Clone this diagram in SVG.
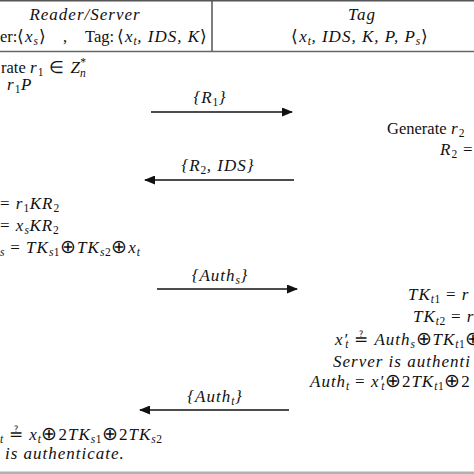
<svg xmlns="http://www.w3.org/2000/svg" width="474" height="474" viewBox="0 0 474 474">
<style>
.m{font-family:"Liberation Serif","Times New Roman",serif;font-style:italic;font-size:17px;letter-spacing:1px;fill:#111}
.t{font-family:"Liberation Serif","Times New Roman",serif;font-size:16.5px;fill:#111}
.u{font-style:normal}
.o{font-style:normal;font-size:19px}
.sb{font-size:11.5px;letter-spacing:0.5px}
.msg{stroke:#111;stroke-width:1.6;fill:none;marker-end:url(#ah)}
</style>
<defs>
<marker id="ah" markerUnits="userSpaceOnUse" markerWidth="11" markerHeight="9" refX="10" refY="4.5" orient="auto">
<path d="M0,0 L11,4.5 L0,9 z" fill="#111"/>
</marker>
</defs>
<rect width="474" height="474" fill="#fff"/>
<g id="frame">
<line x1="0" y1="0.8" x2="474" y2="0.8" stroke="#555" stroke-width="1.6"/>
<line x1="212" y1="0" x2="212" y2="51" stroke="#555" stroke-width="1.5"/>
<line x1="0" y1="51.5" x2="474" y2="51.5" stroke="#666" stroke-width="1.6"/>
<rect x="0" y="471.5" width="474" height="2.5" fill="#b0b0b0"/>
</g>
<g id="header-reader">
<text class="m" x="85" y="20" text-anchor="middle">Reader/Server</text>
<text class="t" x="0" y="42">er:</text>
<text class="m" x="17" y="42"><tspan class="u">⟨</tspan>x<tspan class="sb" dy="3">s</tspan><tspan dy="-3" class="u">⟩</tspan></text>
<text class="t" x="63" y="42">,</text>
<text class="t" x="85" y="42">Tag:</text>
<text class="m" x="117" y="42"><tspan class="u">⟨</tspan>x<tspan class="sb" dy="3">t</tspan><tspan dy="-3">, IDS, K</tspan><tspan class="u">⟩</tspan></text>
</g>
<g id="header-tag">
<text class="m" x="362" y="20" text-anchor="middle">Tag</text>
<text class="m" x="360" y="42" text-anchor="middle"><tspan class="u">⟨</tspan>x<tspan class="sb" dy="3">t</tspan><tspan dy="-3">, IDS, K, P, P</tspan><tspan class="sb" dy="3">s</tspan><tspan dy="-3" class="u">⟩</tspan></text>
</g>
<g id="reader-step1">
<text class="t" x="1" y="73">rate</text>
<text class="m" x="30" y="73">r<tspan class="sb u" dy="3">1</tspan><tspan dy="-3" class="u"> ∈ </tspan>Z<tspan class="sb" dx="-1" dy="-7">*</tspan><tspan class="sb" dx="-6" dy="11">n</tspan></text>
<text class="m" x="7" y="90">r<tspan class="sb u" dy="3">1</tspan><tspan dy="-3">P</tspan></text>
</g>
<g id="tag-step1">
<text class="t" x="387" y="134">Generate</text>
<text class="m" x="451" y="134">r<tspan class="sb u" dy="3">2</tspan></text>
<text class="m" x="440" y="155">R<tspan class="sb u" dy="3">2</tspan><tspan dy="-3" class="u"> =</tspan></text>
</g>
<g id="reader-step2">
<text class="m" x="0" y="209"><tspan class="u">= </tspan>r<tspan class="sb u" dy="3">1</tspan><tspan dy="-3">KR</tspan><tspan class="sb u" dy="3">2</tspan></text>
<text class="m" x="0" y="231"><tspan class="u">= </tspan>x<tspan class="sb" dy="3">s</tspan><tspan dy="-3">KR</tspan><tspan class="sb u" dy="3">2</tspan></text>
<text class="m" x="0" y="253"><tspan class="sb" dy="3">s</tspan><tspan dy="-3" class="u"> = </tspan>TK<tspan class="sb" dy="3">s<tspan class="u">1</tspan></tspan><tspan dy="-3" class="o">⊕</tspan>TK<tspan class="sb" dy="3">s<tspan class="u">2</tspan></tspan><tspan dy="-3" class="o">⊕</tspan>x<tspan class="sb" dy="3">t</tspan></text>
</g>
<g id="tag-step2">
<text class="m" x="408" y="300">TK<tspan class="sb" dy="3">t<tspan class="u">1</tspan></tspan><tspan dy="-3" class="u"> = </tspan>r</text>
<text class="m" x="413" y="322">TK<tspan class="sb" dy="3">t<tspan class="u">2</tspan></tspan><tspan dy="-3" class="u"> = </tspan>r</text>
<text class="m" x="335" y="345">x′<tspan class="sb" dx="-3" dy="3">t</tspan><tspan dy="-3" class="u"> ≟ </tspan>Auth<tspan class="sb" dy="3">s</tspan><tspan dy="-3" class="o">⊕</tspan>TK<tspan class="sb" dy="3">t<tspan class="u">1</tspan></tspan><tspan dy="-3" class="o">⊕</tspan></text>
<text class="m" x="333" y="367">Server is authenti</text>
<text class="m" x="310" y="387">Auth<tspan class="sb" dy="3">t</tspan><tspan dy="-3" class="u"> = </tspan>x′<tspan class="sb" dx="-3" dy="3">t</tspan><tspan dy="-3" class="o">⊕</tspan><tspan class="u">2</tspan>TK<tspan class="sb" dy="3">t<tspan class="u">1</tspan></tspan><tspan dy="-3" class="o">⊕</tspan><tspan class="u">2</tspan></text>
</g>
<g id="reader-step3">
<text class="m" x="0" y="440"><tspan class="sb" dy="3">t</tspan><tspan dy="-3" class="u"> ≟ </tspan>x<tspan class="sb" dy="3">t</tspan><tspan dy="-3" class="o">⊕</tspan><tspan class="u">2</tspan>TK<tspan class="sb" dy="3">s<tspan class="u">1</tspan></tspan><tspan dy="-3" class="o">⊕</tspan><tspan class="u">2</tspan>TK<tspan class="sb" dy="3">s<tspan class="u">2</tspan></tspan></text>
<text class="m" x="5" y="459">is authenticate.</text>
</g>
<g id="connectors">
<line class="msg" x1="151" y1="112" x2="292" y2="112"/>
<text class="m" x="210" y="103" text-anchor="middle">{R<tspan class="sb u" dy="3">1</tspan><tspan dy="-3">}</tspan></text>
<line class="msg" x1="294" y1="180" x2="145" y2="180"/>
<text class="m" x="218" y="171" text-anchor="middle">{R<tspan class="sb u" dy="3">2</tspan><tspan dy="-3">, IDS}</tspan></text>
<line class="msg" x1="157" y1="289" x2="297" y2="289"/>
<text class="m" x="220" y="281" text-anchor="middle">{Auth<tspan class="sb" dy="3">s</tspan><tspan dy="-3">}</tspan></text>
<line class="msg" x1="289" y1="410" x2="140" y2="410"/>
<text class="m" x="215" y="402" text-anchor="middle">{Auth<tspan class="sb" dy="3">t</tspan><tspan dy="-3">}</tspan></text>
</g>
</svg>
